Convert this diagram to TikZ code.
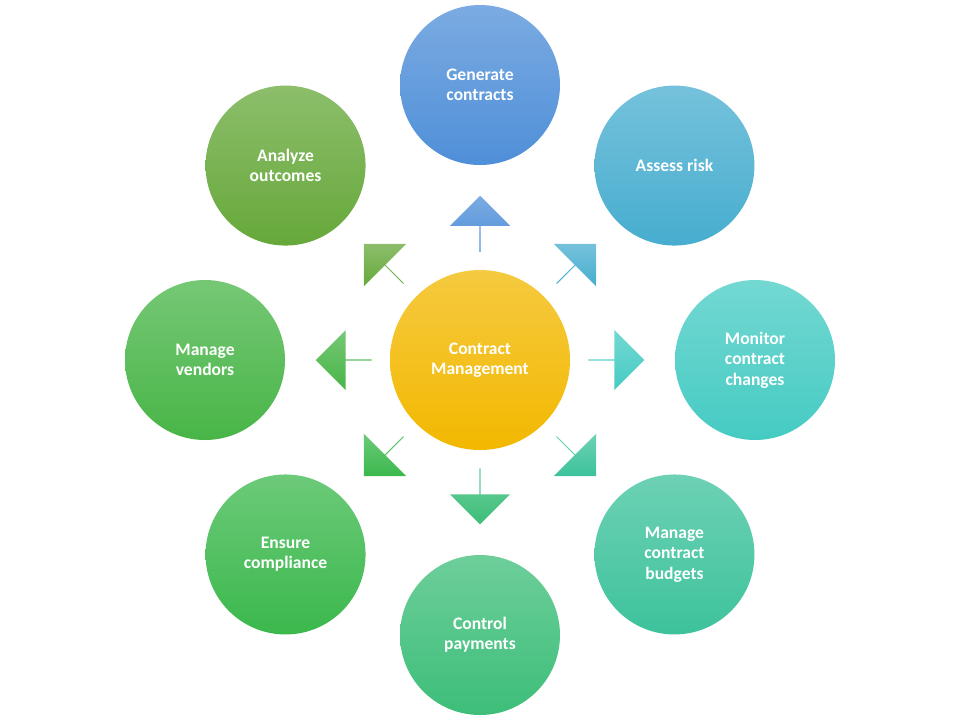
\documentclass[tikz,border=0pt]{standalone}
\usepackage{fontspec}
\setmainfont{Carlito}
\usetikzlibrary{shapes.arrows,calc}
\definecolor{cGen}{HTML}{4F8FD8}
\definecolor{cRisk}{HTML}{47ADCF}
\definecolor{cMon}{HTML}{45CBC3}
\definecolor{cBud}{HTML}{3DC29C}
\definecolor{cPay}{HTML}{3DBE79}
\definecolor{cCom}{HTML}{3BB84C}
\definecolor{cVen}{HTML}{48B547}
\definecolor{cAna}{HTML}{66A83A}
\definecolor{cHub}{HTML}{F2B800}
\begin{document}
\begin{tikzpicture}[bub/.style={circle,minimum size=4cm,inner sep=0pt,align=center,text=white,font=\fontsize{12.5}{14.5}\selectfont\bfseries,top color=#1!75!white,bottom color=#1},
  arr/.style={single arrow,single arrow head extend=0.4cm,minimum width=1.5cm,minimum height=1.4cm,inner sep=0pt,top color=#1!75!white,bottom color=#1}]
\useasboundingbox (0,0) rectangle (24,-18);
\node[bub=cHub,minimum size=4.5cm] (hub) at (12,-9) {Contract\\Management};
\foreach \a/\n/\t/\c in %
{90/gen/Generate\\contracts/cGen,45/risk/Assess risk/cRisk,0/mon/Monitor\\contract\\changes/cMon,
 -45/bud/Manage\\contract\\budgets/cBud,-90/pay/Control\\payments/cPay,-135/com/Ensure\\compliance/cCom,
 180/ven/Manage\\vendors/cVen,135/ana/Analyze\\outcomes/cAna} {
   \node[bub=\c] (\n) at ($(hub)+(\a:6.875)$) {\t};
   \node[arr=\c,rotate=\a] (\n-arr) at ($(hub)+(\a:3.4)$) {};
}
\end{tikzpicture}
\end{document}
